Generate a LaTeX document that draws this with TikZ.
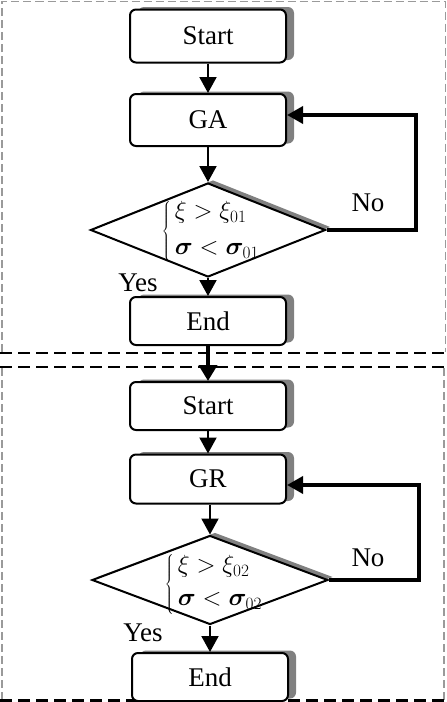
\documentclass[tikz,border=0pt]{standalone}
\usepackage{fontspec}
\usepackage{bm}
\setmainfont{Liberation Serif}
\usetikzlibrary{shapes.geometric,arrows.meta,shadows}
\definecolor{shadowgray}{HTML}{808080}
\definecolor{dashgray}{HTML}{9A9A9A}
\begin{document}
\begin{tikzpicture}[x=1pt,y=-1pt,
  shad/.style={general shadow={fill=shadowgray, shadow xshift=8pt, shadow yshift=2.5pt}},
  dshad/.style={general shadow={fill=shadowgray, shadow xshift=5pt, shadow yshift=3pt}},
  box/.style={shad, draw, fill=white, line width=2pt, rounded corners=6pt,
    minimum width=156pt, inner sep=0pt, font=\fontsize{27}{32}\selectfont},
  dec/.style={dshad, draw, fill=white, diamond, line width=2pt, inner sep=0pt,
    minimum width=235pt, minimum height=94pt},
  cond/.style={font=\fontsize{23}{27}\selectfont, inner sep=0pt},
  lbl/.style={font=\fontsize{27}{32}\selectfont, inner sep=0pt},
  arr/.style={line width=2pt, -{Triangle[length=16pt,width=17pt]}},
  fb/.style={line width=3.5pt, -{Triangle[length=16pt,width=17pt]}},
  graydash/.style={draw=dashgray, line width=1.6pt, dash pattern=on 8pt off 4pt},
  blackdash/.style={draw=black, line width=2.6pt, dash pattern=on 12pt off 6pt}]
\useasboundingbox (0,0) rectangle (447,702);
\clip (0,0) rectangle (447,702);
% frames
\draw[graydash] (2,352) -- (2,1.5) -- (445.5,1.5) -- (445.5,352);
\draw[blackdash] (0,353) -- (447,353);
\draw[blackdash] (0,367) -- (447,367);
\draw[graydash] (2,368) -- (2,700);
\draw[graydash] (444,368) -- (444,700);
\draw[blackdash] (0,700.5) -- (447,700.5);
% first stage
\node[box, minimum height=53pt] (s1) at (208,36) {Start};
\node[box, minimum height=52pt] (ga) at (208,120) {GA};
\node[dec] (d1) at (208,230) {};
\node[cond] (c1) at (211,231) {$\left\{\begin{array}{@{\,}l@{}}\xi > \xi_{\scriptstyle 01}\\[9pt] \bm{\sigma} < \bm{\sigma}_{\scriptstyle 01}\end{array}\right.$};
\node[box, minimum height=48pt] (e1) at (208,321) {End};
\node[lbl] (no1) at (368,203) {No};
\node[lbl] (yes1) at (138,283) {Yes};
% second stage
\node[box, minimum height=48pt] (s2) at (208,406) {Start};
\node[box, minimum height=49pt] (gr) at (208,479) {GR};
\node[dec, minimum height=89pt, minimum width=236pt] (d2) at (210,580) {};
\node[cond] (c2) at (214,584) {$\left\{\begin{array}{@{\,}l@{}}\xi > \xi_{\scriptstyle 02}\\[6pt] \bm{\sigma} < \bm{\sigma}_{\scriptstyle 02}\end{array}\right.$};
\node[box, minimum height=48pt] (e2) at (210,677) {End};
\node[lbl] (no2) at (368,558) {No};
\node[lbl] (yes2) at (143,633) {Yes};
% connectors
\draw[arr] (s1) -- (ga);
\draw[arr] (ga) -- (d1.north);
\draw[arr] (d1.south) -- (e1);
\draw[fb] (d1.east) -- (416,230) -- (416,115) -- (ga.east |- 0,115);
\draw[line width=4.5pt, -{Triangle[length=16pt,width=18pt]}] (e1) -- (s2);
\draw[arr] (s2) -- (gr);
\draw[arr] (gr.south -| d2.north) -- (d2.north);
\draw[arr] (d2.south) -- (e2);
\draw[fb] (d2.east) -- (419,580) -- (419,485) -- (gr.east |- 0,485);
\end{tikzpicture}
\end{document}
